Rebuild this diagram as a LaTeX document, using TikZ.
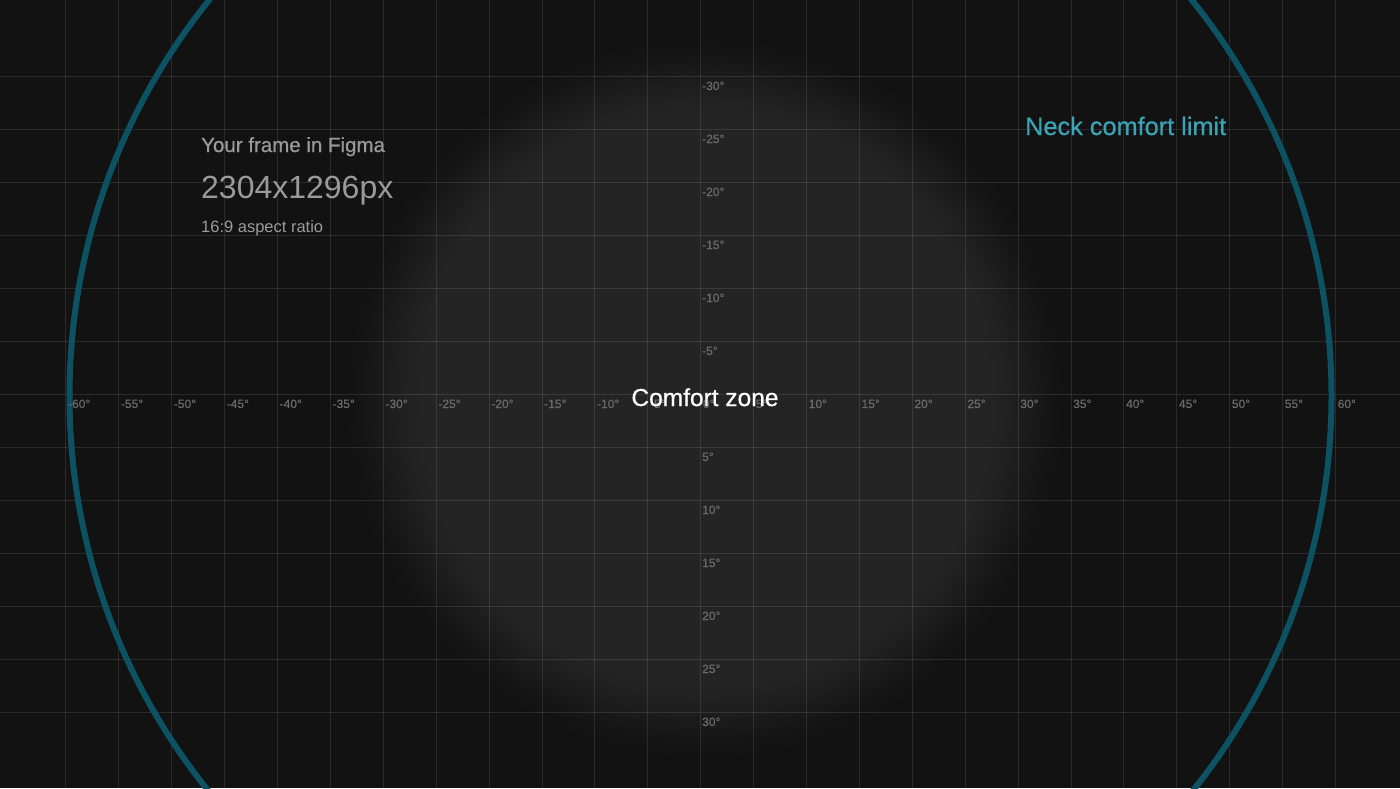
\documentclass[tikz,border=0pt]{standalone}
\usepackage{fontspec}
\setmainfont{Liberation Sans}
\newfontfamily\medfont[FakeBold=0.6]{Liberation Sans}
\usepackage{xcolor}
\usetikzlibrary{positioning}

\definecolor{bgdark}{HTML}{121212}
\definecolor{zonefill}{HTML}{242424}
\colorlet{zonehigh}{zonefill!85!bgdark}
\colorlet{zonemid}{zonefill!50!bgdark}
\colorlet{zonelow}{zonefill!15!bgdark}
\definecolor{neckring}{HTML}{0C5262}
\definecolor{necktext}{HTML}{3BA3B6}
\definecolor{axisgray}{HTML}{6A6A6A}
\definecolor{infogray}{HTML}{9A9A9A}

\pgfdeclareradialshading{comfortglow}{\pgfpoint{0bp}{0bp}}{color(0bp)=(zonefill); color(18.75bp)=(zonefill); color(19.7bp)=(zonehigh); color(21.2bp)=(zonemid); color(22.6bp)=(zonelow); color(23.7bp)=(bgdark); color(50bp)=(bgdark)}

\tikzset{
  gridline/.style={white, opacity=0.1, line width=1pt},
  axislabel/.style={anchor=base west, inner sep=0pt, text=axisgray, font=\medfont\fontsize{12}{14}\selectfont},
  infotext/.style={anchor=base west, inner sep=0pt, text=infogray},
}

\begin{document}
\begin{tikzpicture}[x=1pt,y=-1pt]
    \fill[bgdark] (0,0) rectangle (1400,788);
    \useasboundingbox (0,0) rectangle (1400,788);

    % Comfort zone glow
    \shade[shading=comfortglow] (705,398) circle[radius=380];

    % Grid, one line every 5 degrees
    \foreach \i in {-12,...,12}
        \draw[gridline] (700.7+52.9*\i,0) -- (700.7+52.9*\i,788);
    \foreach \j in {-6,...,6}
        \draw[gridline] (0,394+53*\j) -- (1400,394+53*\j);

    % Neck comfort limit ring
    \draw[neckring, line width=6pt] (700.5,396) circle[radius=631];

    % Degree labels
    \foreach \d [count=\k] in {-60,-55,...,60}
        \node[axislabel] (hlab\k) at (702.7+10.58*\d,408) {\d°};
    \foreach \d [count=\k] in {-30,-25,...,-5,5,10,...,30}
        \node[axislabel] (vlab\k) at (702,408+10.6*\d) {\d°};

    % Frame info
    \node[infotext, font=\medfont\fontsize{20.5}{24}\selectfont] (frametitle) at (201,152) {Your frame in Figma};
    \node[infotext, font=\fontsize{32}{36}\selectfont] (framesize) at (201,198) {2304x1296px};
    \node[infotext, font=\fontsize{16.5}{20}\selectfont] (frameratio) at (201,232) {16:9 aspect ratio};

    \node[anchor=base west, inner sep=0pt, text=necktext, font=\medfont\fontsize{25.3}{28}\selectfont] (necklabel) at (1025,135) {Neck comfort limit};
    \node[anchor=base, inner sep=0pt, text=white, font=\medfont\fontsize{24.5}{28}\selectfont] (zonelabel) at (705,406) {Comfort zone};
\end{tikzpicture}
\end{document}
